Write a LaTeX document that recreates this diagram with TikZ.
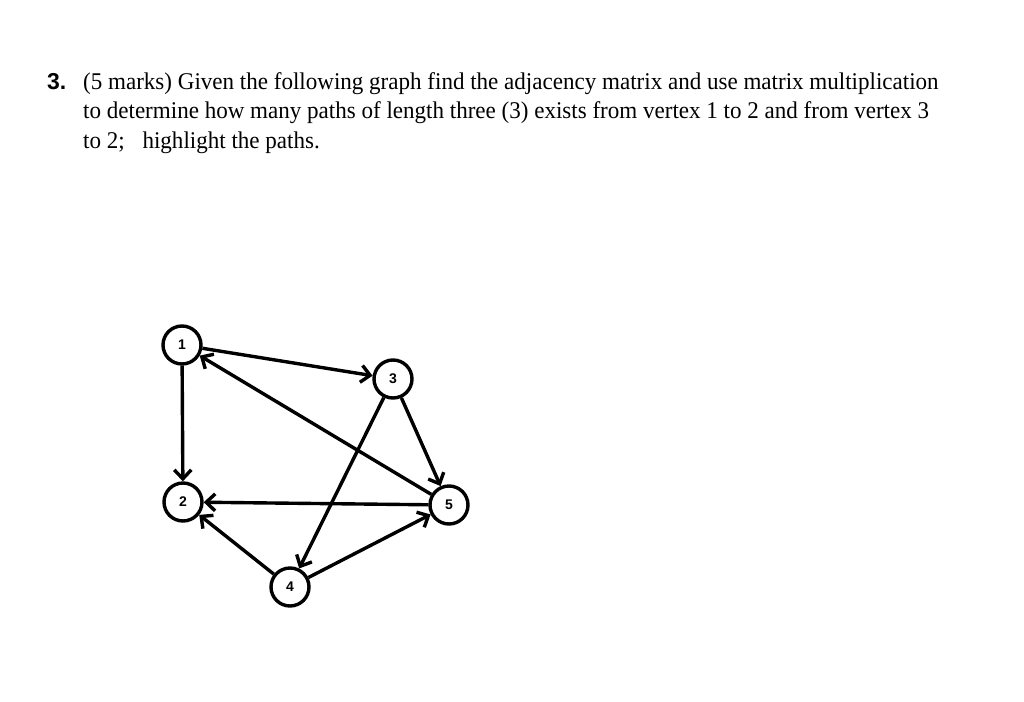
\documentclass[tikz,border=0pt]{standalone}
\usepackage{fontspec}
\setmainfont{Liberation Serif}
\newfontfamily\numfont{Liberation Sans}
\newfontfamily\questfont[FakeStretch=0.96]{Liberation Serif}
\usetikzlibrary{arrows.meta, positioning, calc}

\begin{document}
\begin{tikzpicture}[x=1pt, y=-1pt,
    vertex/.style={circle, draw, line width=3.4pt, minimum size=38pt, inner sep=0pt,
      font=\numfont\bfseries\fontsize{14}{14}\selectfont},
    edge/.style={-{Straight Barb[length=9pt, width=17pt]}, line width=3.4pt},
    qline/.style={anchor=base west, inner sep=0pt,
      font=\questfont\fontsize{24}{24}\selectfont}]
  \useasboundingbox (0,0) rectangle (1024,701);
  % question text
  \node[anchor=base west, inner sep=0pt, font=\numfont\bfseries\fontsize{23}{23}\selectfont] (qnum) at (47,89) {3.};
  \node[qline] (q1) at (83,89) {(5 marks) Given the following graph find the adjacency matrix and use matrix multiplication};
  \node[qline] (q2) at (83,118.5) {to determine how many paths of length three (3) exists from vertex 1 to 2 and from vertex 3};
  \node[qline] (q3) at (83,148) {to 2;\hspace{0.5em} highlight the paths.};
  % graph
  \node[vertex] (v1) at (182,345) {1};
  \node[vertex] (v3) at (393,379) {3};
  \node[vertex] (v2) at (183,502) {2};
  \node[vertex] (v5) at (449,505) {5};
  \node[vertex] (v4) at (290,587) {4};
  \draw[edge] (v1) -- (v3);
  \draw[edge] (v1) -- (v2);
  \draw[edge] (v5) -- (v1);
  \draw[edge] (v3) -- (v5);
  \draw[edge] (v3) -- (v4);
  \draw[edge] (v5) -- (v2);
  \draw[edge] (v4) -- (v2);
  \draw[edge] (v4) -- (v5);
\end{tikzpicture}
\end{document}
